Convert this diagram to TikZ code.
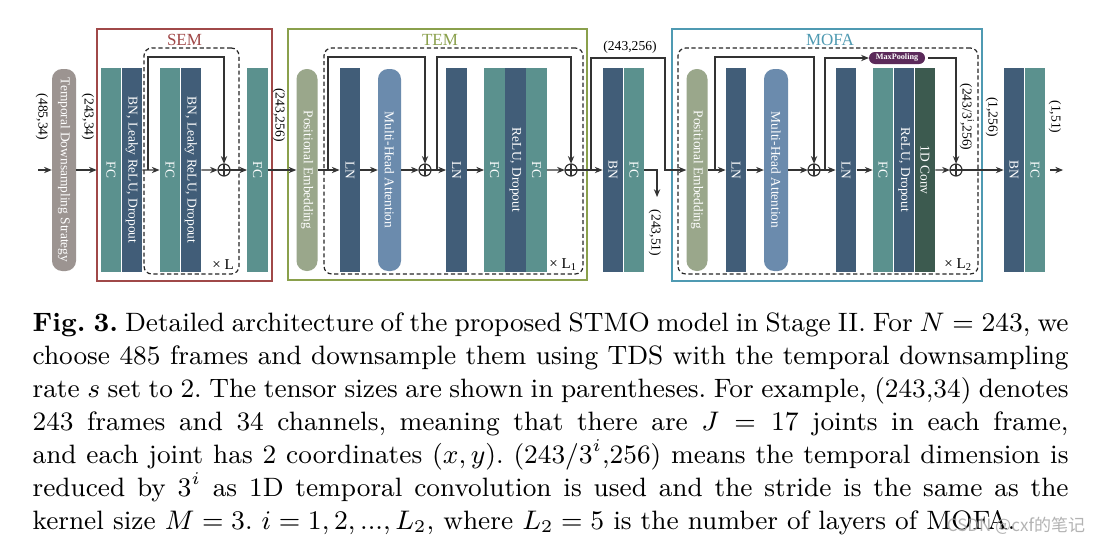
\documentclass[tikz,border=0pt]{standalone}
\usepackage{fontspec}
\usepackage{graphicx}
\usetikzlibrary{arrows.meta, positioning, calc}
\newfontfamily\diagfont{Liberation Serif}
\newfontfamily\cjkfont{Noto Sans CJK SC}
\definecolor{fcteal}{HTML}{5B918E}
\definecolor{normnavy}{HTML}{415D78}
\definecolor{convgreen}{HTML}{3C5A4F}
\definecolor{tdsgray}{HTML}{9C9491}
\definecolor{posolive}{HTML}{9AA78B}
\definecolor{attnblue}{HTML}{6B8BAD}
\definecolor{poolplum}{HTML}{5B2A5A}
\definecolor{semred}{HTML}{A04848}
\definecolor{temgreen}{HTML}{8AA04C}
\definecolor{mofablue}{HTML}{4F9AB2}
\definecolor{wiregray}{HTML}{333333}
\newcommand{\vtxt}[1]{\rotatebox{-90}{#1}}
\newcommand{\capline}[1]{\hbox to 347.06pt{#1}}

\begin{document}
\begin{tikzpicture}[x=1pt, y=-1pt, scale=0.335, transform shape,
  font=\diagfont\fontsize{13.4}{15}\selectfont,
  blk/.style={rectangle, minimum width=20.5pt, minimum height=204pt, inner sep=0pt, text=white, fill=#1},
  pill/.style={rectangle, rounded corners=3.4pt, minimum width=21pt, minimum height=202pt, inner sep=0pt, text=white, fill=#1},
  sumnode/.style={circle, draw=wiregray, line width=0.4pt, minimum size=12pt, inner sep=0pt,
    path picture={\draw[line width=0.4pt, wiregray] (path picture bounding box.north) -- (path picture bounding box.south)
      (path picture bounding box.west) -- (path picture bounding box.east);}},
  modbox/.style={draw=#1, line width=0.5pt, inner sep=0pt},
  loopbox/.style={draw=black!85, dashed, dash pattern=on 1.4pt off 0.9pt, rounded corners=2.6pt, line width=0.4pt, inner sep=0pt},
  modlbl/.style={font=\diagfont\fontsize{17}{19}\selectfont, text=#1},
  dimlbl/.style={rotate=-90, inner sep=0pt, font=\diagfont\fontsize{13.6}{15}\selectfont},
  replbl/.style={inner sep=0pt, font=\diagfont\fontsize{15}{17}\selectfont},
  arr/.style={-{Stealth[length=2.6pt, width=2.1pt]}, line width=0.42pt, draw=wiregray}]

  \fill[white] (0,0) rectangle (1102,546);
  \useasboundingbox (0,0) rectangle (1102,546);

  % Module frames
  \node[modbox=semred, minimum width=175pt, minimum height=252pt] (sem) at (184.5,155) {};
  \node[loopbox, minimum width=95pt, minimum height=226pt] (semloop) at (191.5,161) {};
  \node[modlbl=semred] (semlbl) at (184.5,40) {SEM};
  \node[replbl] (semrep) at (223,265) {× L};

  \node[modbox=temgreen, minimum width=299pt, minimum height=251pt] (tem) at (437.5,154.5) {};
  \node[loopbox, minimum width=259pt, minimum height=226pt] (temloop) at (453.5,161) {};
  \node[modlbl=temgreen] (temlbl) at (440,40) {TEM};
  \node[replbl] (temrep) at (563,265) {× L\textsubscript{1}};

  \node[modbox=mofablue, minimum width=310pt, minimum height=252pt] (mofa) at (827,155) {};
  \node[loopbox, minimum width=300pt, minimum height=226pt] (mofaloop) at (828,161) {};
  \node[modlbl=mofablue] (mofalbl) at (830,40) {MOFA};
  \node[replbl] (moforep) at (958,265) {× L\textsubscript{2}};

  % SEM blocks
  \node[pill=tdsgray, minimum width=24pt] (tds) at (64,170) {\vtxt{Temporal Downsampling Strategy}};
  \node[blk=fcteal] (fcA) at (111,170) {\vtxt{FC}};
  \node[blk=normnavy, right=0pt of fcA] (bnA) {\vtxt{BN, Leaky ReLU, Dropout}};
  \node[blk=fcteal] (fcB) at (170,170) {\vtxt{FC}};
  \node[blk=normnavy, right=0pt of fcB] (bnB) {\vtxt{BN, Leaky ReLU, Dropout}};
  \node[sumnode] (sumA) at (224,170) {};
  \node[blk=fcteal] (fcC) at (257.5,170) {\vtxt{FC}};

  % TEM blocks
  \node[pill=posolive] (peT) at (307,170) {\vtxt{Positional Embedding}};
  \node[blk=normnavy] (lnT1) at (350,170) {\vtxt{LN}};
  \node[pill=attnblue, minimum width=23pt] (mhaT) at (389.5,170) {\vtxt{Multi-Head Attention}};
  \node[sumnode] (sumT1) at (425,170) {};
  \node[blk=normnavy] (lnT2) at (456.5,170) {\vtxt{LN}};
  \node[blk=fcteal] (fcT1) at (494.5,170) {\vtxt{FC}};
  \node[blk=normnavy, right=0pt of fcT1] (reT) {\vtxt{ReLU, Dropout}};
  \node[blk=fcteal, right=0pt of reT] (fcT2) {\vtxt{FC}};
  \node[sumnode] (sumT2) at (571,170) {};

  % Pose head between TEM and MOFA
  \node[blk=normnavy] (bnM) at (613,170) {\vtxt{BN}};
  \node[blk=fcteal, right=0pt of bnM] (fcM) {\vtxt{FC}};

  % MOFA blocks
  \node[pill=posolive] (peM) at (697,170) {\vtxt{Positional Embedding}};
  \node[blk=normnavy] (lnM1) at (736,170) {\vtxt{LN}};
  \node[pill=attnblue, minimum width=24pt] (mhaM) at (776,170) {\vtxt{Multi-Head Attention}};
  \node[sumnode] (sumM1) at (814,170) {};
  \node[blk=normnavy] (lnM2) at (846,170) {\vtxt{LN}};
  \node[blk=fcteal] (fcM1) at (883,170) {\vtxt{FC}};
  \node[blk=normnavy, right=0pt of fcM1] (reM) {\vtxt{ReLU, Dropout}};
  \node[blk=convgreen, right=0pt of reM] (cvM) {\vtxt{1D Conv}};
  \node[sumnode] (sumM2) at (956,170) {};
  \node[fill=poolplum, rounded corners=2pt, minimum width=56pt, minimum height=12pt, inner sep=0pt, text=white,
    font=\diagfont\bfseries\fontsize{8.2}{9}\selectfont] (mpM) at (897,58) {MaxPooling};

  % Output head
  \node[blk=normnavy] (bnO) at (1014,170) {\vtxt{BN}};
  \node[blk=fcteal, right=0pt of bnO] (fcO) {\vtxt{FC}};

  % Tensor sizes
  \node[dimlbl] (dimIn) at (42,117) {(485,34)};
  \node[dimlbl] (dimTds) at (88,117) {(243,34)};
  \node[dimlbl] (dimSem) at (279,115) {(243,256)};
  \node[inner sep=0pt, font=\diagfont\fontsize{13.6}{15}\selectfont] (dimMid) at (630,47) {(243,256)};
  \node[dimlbl] (dimPose) at (655,233) {(243,51)};
  \node[dimlbl] (dimPool) at (967,117) {(243/3\textsuperscript{i},256)};
  \node[dimlbl] (dimOutA) at (992,117) {(1,256)};
  \node[dimlbl] (dimOutB) at (1055,117) {(1,51)};

  % SEM wiring
  \coordinate (inA) at (38,170);
  \draw[arr] (inA) -- (tds.west);
  \draw[arr] (tds.east) -- (sem.west |- tds.east);
  \draw[arr] (bnA.east) -- (fcB.west);
  \coordinate (skA) at (148,170);
  \draw[arr] (skA) -- ++(0,-113) -| (sumA.north);
  \draw[arr] (bnB.east) -- (sumA.west);
  \draw[arr] (sumA.east) -- (fcC.west);
  \draw[arr] (fcC.east) -- (peT.west);

  % TEM wiring
  \draw[arr] (peT.east) -- (lnT1.west);
  \coordinate (skT1) at (328,170);
  \draw[arr] (skT1) -- ++(0,-113) -| (sumT1.north);
  \draw[arr] (lnT1.east) -- (mhaT.west);
  \draw[arr] (mhaT.east) -- (sumT1.west);
  \draw[arr] (sumT1.east) -- (lnT2.west);
  \coordinate (skT2) at (437,170);
  \draw[arr] (skT2) -- ++(0,-113) -| (sumT2.north);
  \draw[arr] (lnT2.east) -- (fcT1.west);
  \draw[arr] (fcT2.east) -- (sumT2.west);
  \draw[arr] (sumT2.east) -- (bnM.west);
  \coordinate (skM) at (591,170);
  \coordinate (dnM) at (665,170);
  \draw[arr] (skM) -- ++(0,-112) -| (dnM) -- (peM.west);
  \coordinate (outM) at (657,197);
  \draw[arr] (fcM.east) -| (outM);

  % MOFA wiring
  \draw[arr] (peM.east) -- (lnM1.west);
  \coordinate (skM1) at (715,170);
  \draw[arr] (skM1) -- ++(0,-113) -| (sumM1.north);
  \draw[arr] (lnM1.east) -- (mhaM.west);
  \draw[arr] (mhaM.east) -- (sumM1.west);
  \draw[arr] (sumM1.east) -- (lnM2.west);
  \coordinate (skM2) at (825,170);
  \draw[arr] (skM2) |- (mpM.west);
  \draw[arr] ($(mpM.east)+(3,0)$) -| (sumM2.north);
  \draw[arr] (lnM2.east) -- (fcM1.west);
  \draw[arr] (cvM.east) -- (sumM2.west);
  \draw[arr] (sumM2.east) -- (bnO.west);
  \coordinate (outA) at (1050,170);
  \coordinate (outB) at (1063,170);
  \draw[arr] (outA) -- (outB);

  % Caption, set at its true size
  \coordinate (capat) at (32,331);
  \begin{scope}[scale=2.98507]
    \node[anchor=base west, inner sep=0pt, text width=347.06pt, align=justify,
      font=\rmfamily\fontsize{8.9}{11.06}\selectfont\frenchspacing] (caption) at (capat) {%
      \capline{\textbf{Fig. 3.} Detailed architecture of the proposed STMO model in Stage II. For $N=243$, we}
      \capline{choose 485 frames and downsample them using TDS with the temporal downsampling}
      \capline{rate $s$ set to 2. The tensor sizes are shown in parentheses. For example, (243,34) denotes}
      \capline{243 frames and 34 channels, meaning that there are $J=17$ joints in each frame,}
      \capline{and each joint has 2 coordinates $(x,y)$. (243/$3^i$,256) means the temporal dimension is}
      \capline{reduced by $3^i$ as 1D temporal convolution is used and the stride is the same as the}
      \capline{kernel size $M=3$. $i=1,2,...,L_2$, where $L_2=5$ is the number of layers of MOFA.\hfil}};
  \end{scope}
  \node[font=\cjkfont\fontsize{17}{19}\selectfont, text=black!35, opacity=0.85] (mark) at (1016,526) {CSDN @cxf的笔记};
\end{tikzpicture}
\end{document}
